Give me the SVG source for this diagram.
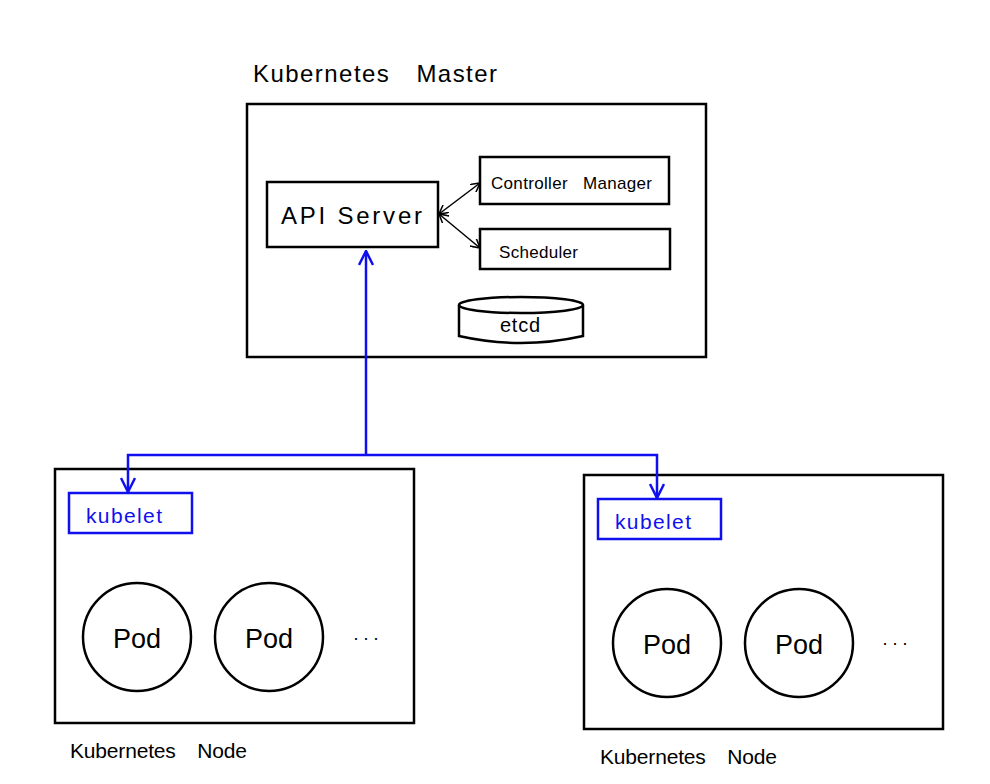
<svg xmlns="http://www.w3.org/2000/svg" width="990" height="784" viewBox="0 0 990 784">
<style>
.box{fill:none;stroke:#000;stroke-width:2.5}
.blue{fill:none;stroke:#1010ee;stroke-width:2.5}
.t{font-family:"Liberation Sans",Arial,sans-serif;fill:#000}
.tb{font-family:"Liberation Sans",Arial,sans-serif;fill:#1010ee}
.ln{fill:none;stroke:#000;stroke-width:1.5}
</style>
<defs>
<marker id="ah" viewBox="0 0 10 10" refX="9" refY="5" markerWidth="10" markerHeight="10" markerUnits="userSpaceOnUse" orient="auto-start-reverse">
<path d="M0,0 L9,5 L0,10" fill="none" stroke="#000" stroke-width="1.5"/>
</marker>
<marker id="bh" viewBox="0 0 16 16" refX="15" refY="8" markerWidth="16" markerHeight="16" markerUnits="userSpaceOnUse" orient="auto">
<path d="M1,1 L15,8 L1,15" fill="none" stroke="#1010ee" stroke-width="2.5"/>
</marker>
</defs>
<rect width="990" height="784" fill="#fff"/>

<g id="master">
<text class="t" x="253" y="82" font-size="24" textLength="244" lengthAdjust="spacing" word-spacing="18">Kubernetes Master</text>
<rect class="box" x="247" y="104" width="459" height="253"/>
</g>
<g id="api-server">
<rect class="box" x="267" y="182" width="171" height="65"/>
<text class="t" x="281" y="224" font-size="24" textLength="141" lengthAdjust="spacing">API Server</text>
</g>
<g id="controller-manager">
<rect class="box" x="480" y="157" width="189" height="47"/>
<text class="t" x="491" y="189" font-size="17" textLength="161" lengthAdjust="spacing" word-spacing="10">Controller Manager</text>
</g>
<g id="scheduler">
<rect class="box" x="480" y="229" width="190" height="40"/>
<text class="t" x="499" y="258" font-size="17" textLength="79" lengthAdjust="spacing">Scheduler</text>
</g>
<g id="etcd">
<path class="box" d="M459,305 L459,336 Q521,350 583,336 L583,305"/>
<ellipse class="box" cx="521" cy="305" rx="62" ry="8"/>
<text class="t" x="500" y="332" font-size="20" textLength="40" lengthAdjust="spacing">etcd</text>
</g>

<g id="node1">
<rect class="box" x="55" y="469" width="359" height="254"/>
<text class="t" x="70" y="758" font-size="21" textLength="177" lengthAdjust="spacing" word-spacing="16">Kubernetes Node</text>
<text class="t" x="366" y="640" font-size="18" text-anchor="middle">. . .</text>
</g>
<g id="kubelet1">
<rect class="blue" x="69" y="493" width="123" height="40"/>
<text class="tb" x="86" y="523" font-size="21" textLength="76" lengthAdjust="spacing">kubelet</text>
</g>
<g id="pod1a">
<circle class="box" cx="137" cy="637" r="54"/>
<text class="t" x="137" y="648" font-size="27" text-anchor="middle">Pod</text>
</g>
<g id="pod1b">
<circle class="box" cx="269" cy="637" r="54"/>
<text class="t" x="269" y="648" font-size="27" text-anchor="middle">Pod</text>
</g>

<g id="node2">
<rect class="box" x="584" y="475" width="359" height="254"/>
<text class="t" x="600" y="764" font-size="21" textLength="177" lengthAdjust="spacing" word-spacing="16">Kubernetes Node</text>
<text class="t" x="895" y="645" font-size="18" text-anchor="middle">. . .</text>
</g>
<g id="kubelet2">
<rect class="blue" x="598" y="499" width="123" height="40"/>
<text class="tb" x="615" y="529" font-size="21" textLength="76" lengthAdjust="spacing">kubelet</text>
</g>
<g id="pod2a">
<circle class="box" cx="667" cy="643" r="54"/>
<text class="t" x="667" y="654" font-size="27" text-anchor="middle">Pod</text>
</g>
<g id="pod2b">
<circle class="box" cx="799" cy="643" r="54"/>
<text class="t" x="799" y="654" font-size="27" text-anchor="middle">Pod</text>
</g>

<g id="connectors">
<line class="ln" x1="439" y1="214" x2="480" y2="183" marker-start="url(#ah)" marker-end="url(#ah)"/>
<line class="ln" x1="439" y1="214" x2="480" y2="248" marker-start="url(#ah)" marker-end="url(#ah)"/>
<line class="blue" x1="366" y1="455" x2="366" y2="251" marker-end="url(#bh)"/>
<polyline class="blue" points="366,455 128,455 128,492" marker-end="url(#bh)"/>
<polyline class="blue" points="366,455 657,455 657,498" marker-end="url(#bh)"/>
</g>
</svg>
